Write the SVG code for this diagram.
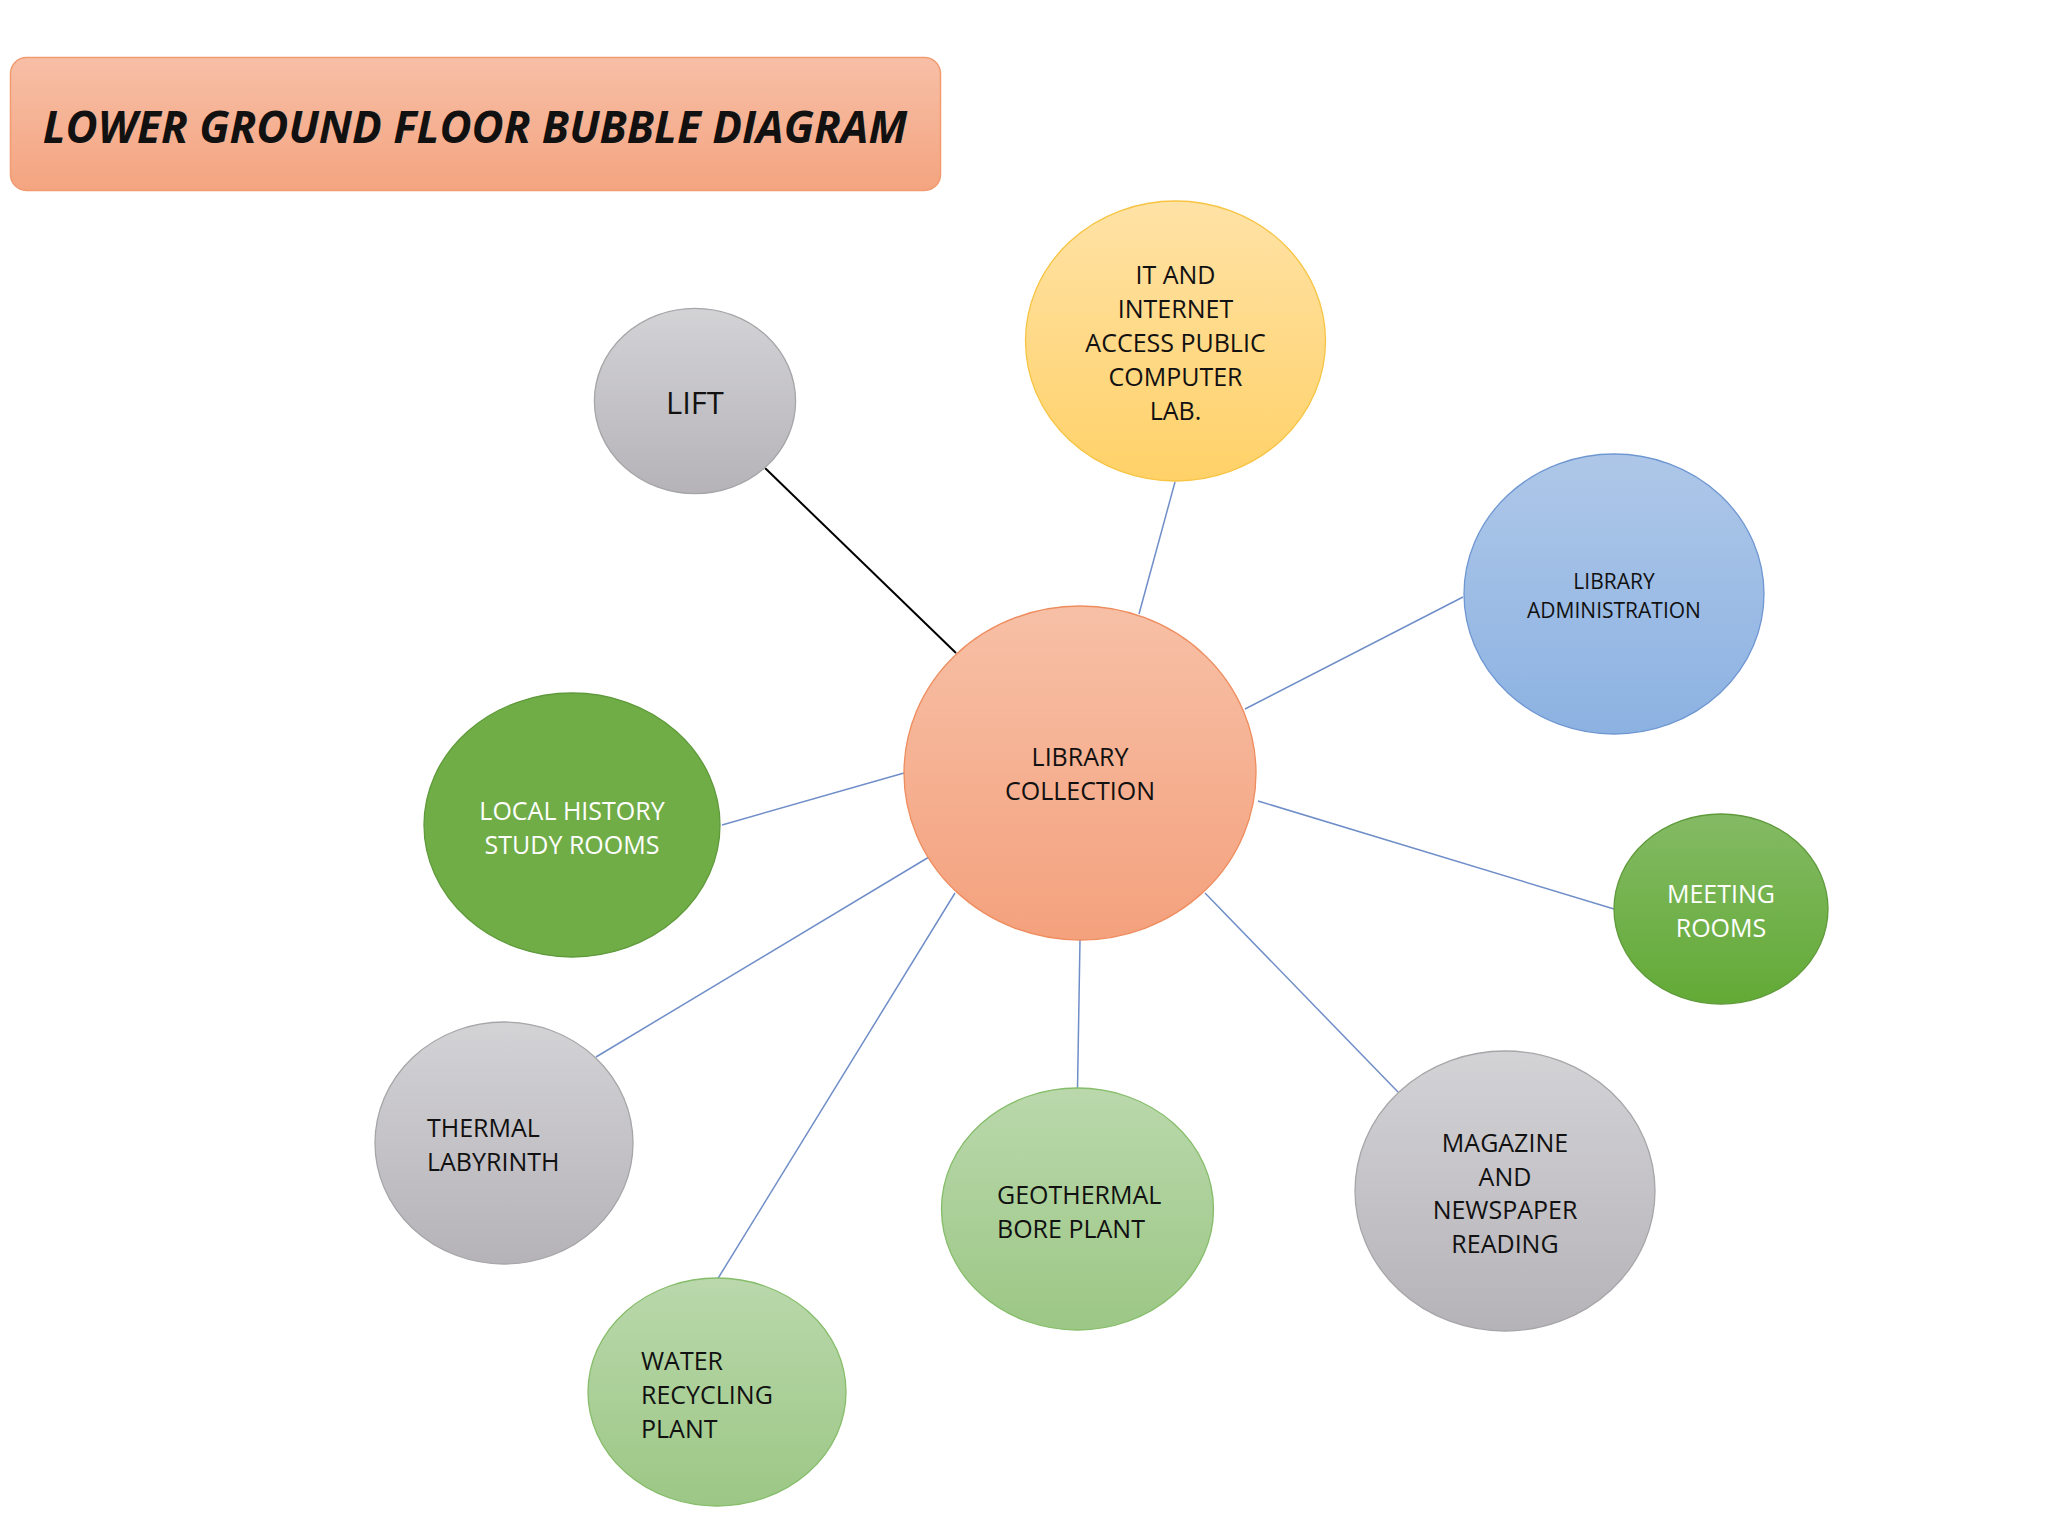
<svg xmlns="http://www.w3.org/2000/svg" width="2048" height="1536" viewBox="0 0 2048 1536">
<defs>
<linearGradient id="gTitle" x1="0" y1="0" x2="0" y2="1"><stop offset="0" stop-color="#f7bfa6"/><stop offset="1" stop-color="#f4a480"/></linearGradient>
<linearGradient id="gGrey" x1="0" y1="0" x2="0" y2="1"><stop offset="0" stop-color="#d3d2d5"/><stop offset="1" stop-color="#b5b3b8"/></linearGradient>
<linearGradient id="gYellow" x1="0" y1="0" x2="0" y2="1"><stop offset="0" stop-color="#ffe2a6"/><stop offset="1" stop-color="#ffd168"/></linearGradient>
<linearGradient id="gBlue" x1="0" y1="0" x2="0" y2="1"><stop offset="0" stop-color="#aec7e8"/><stop offset="1" stop-color="#8cb2e2"/></linearGradient>
<linearGradient id="gOrange" x1="0" y1="0" x2="0" y2="1"><stop offset="0" stop-color="#f7c0a6"/><stop offset="1" stop-color="#f4a17d"/></linearGradient>
<linearGradient id="gMeet" x1="0" y1="0" x2="0" y2="1"><stop offset="0" stop-color="#84ba64"/><stop offset="1" stop-color="#62aa36"/></linearGradient>
<linearGradient id="gLG" x1="0" y1="0" x2="0" y2="1"><stop offset="0" stop-color="#bad8ac"/><stop offset="1" stop-color="#9cc785"/></linearGradient>
</defs>
<style>
text{font-family:"Open Sans","Liberation Sans",sans-serif;font-size:25px;fill:#111;dominant-baseline:central}
.c{text-anchor:middle}
.w{fill:#fff}
.grey{fill:url(#gGrey);stroke:#a6a6a9;stroke-width:1.3}
.lg{fill:url(#gLG);stroke:#86bd6a;stroke-width:1.3}
.ln{stroke:#6f8ec8;stroke-width:1.5;fill:none}
</style>
<rect width="2048" height="1536" fill="#fff"/>
<g id="title">
<rect x="10.5" y="57.5" width="930" height="133" rx="16" fill="url(#gTitle)" stroke="#f29a70" stroke-width="1.5"/>
<text x="475" y="126" class="c" style="font-size:44px;font-weight:bold;font-style:italic">LOWER GROUND FLOOR BUBBLE DIAGRAM</text>
</g>
<g id="connectors">
<line x1="765" y1="468" x2="956" y2="653" stroke="#000" stroke-width="2"/>
<line class="ln" x1="1175" y1="482" x2="1139" y2="614"/>
<line class="ln" x1="1463" y1="597" x2="1245" y2="709"/>
<line class="ln" x1="722" y1="825" x2="904" y2="773"/>
<line class="ln" x1="1258" y1="801" x2="1614" y2="909"/>
<line class="ln" x1="596" y1="1057" x2="929" y2="857"/>
<line class="ln" x1="717" y1="1280" x2="955" y2="893"/>
<line class="ln" x1="1080" y1="940" x2="1077.5" y2="1089"/>
<line class="ln" x1="1205" y1="893" x2="1398" y2="1092"/>
</g>
<g id="lift"><ellipse cx="695" cy="401" rx="100.6" ry="92.7" class="grey"/><text x="695" y="402" class="c" style="font-size:31px">LIFT</text></g>
<g id="it"><ellipse cx="1175.5" cy="341" rx="150" ry="140" fill="url(#gYellow)" stroke="#f7c443" stroke-width="1.3"/>
<text class="c" x="1175.5" y="274">IT AND</text><text class="c" x="1175.5" y="308">INTERNET</text><text class="c" x="1175.5" y="342">ACCESS PUBLIC</text><text class="c" x="1175.5" y="376">COMPUTER</text><text class="c" x="1175.5" y="410">LAB.</text></g>
<g id="admin"><ellipse cx="1614" cy="594" rx="150" ry="140" fill="url(#gBlue)" stroke="#6f97d2" stroke-width="1.3"/>
<text class="c" x="1614" y="581" style="font-size:21px">LIBRARY</text><text class="c" x="1614" y="610" style="font-size:21px">ADMINISTRATION</text></g>
<g id="center"><ellipse cx="1080" cy="773" rx="176" ry="167" fill="url(#gOrange)" stroke="#ef8c5e" stroke-width="1.3"/>
<text class="c" x="1080" y="756">LIBRARY</text><text class="c" x="1080" y="790">COLLECTION</text></g>
<g id="local"><ellipse cx="572" cy="825" rx="148" ry="132" fill="#70ad47" stroke="#5f9a3b" stroke-width="1.3"/>
<text class="c w" x="572" y="810">LOCAL HISTORY</text><text class="c w" x="572" y="844">STUDY ROOMS</text></g>
<g id="meeting"><ellipse cx="1721" cy="909" rx="107" ry="95" fill="url(#gMeet)" stroke="#5f9a3b" stroke-width="1.3"/>
<text class="c w" x="1721" y="893">MEETING</text><text class="c w" x="1721" y="927">ROOMS</text></g>
<g id="thermal"><ellipse cx="504" cy="1143" rx="129" ry="121" class="grey"/>
<text x="427" y="1127">THERMAL</text><text x="427" y="1161">LABYRINTH</text></g>
<g id="geo"><ellipse cx="1077.5" cy="1209" rx="136" ry="121" class="lg"/>
<text x="997" y="1194">GEOTHERMAL</text><text x="997" y="1228">BORE PLANT</text></g>
<g id="magazine"><ellipse cx="1505" cy="1191" rx="150" ry="140" class="grey"/>
<text class="c" x="1505" y="1142">MAGAZINE</text><text class="c" x="1505" y="1176">AND</text><text class="c" x="1505" y="1209">NEWSPAPER</text><text class="c" x="1505" y="1243">READING</text></g>
<g id="water"><ellipse cx="717" cy="1392" rx="129" ry="114" class="lg"/>
<text x="641" y="1360">WATER</text><text x="641" y="1394">RECYCLING</text><text x="641" y="1428">PLANT</text></g>
</svg>
